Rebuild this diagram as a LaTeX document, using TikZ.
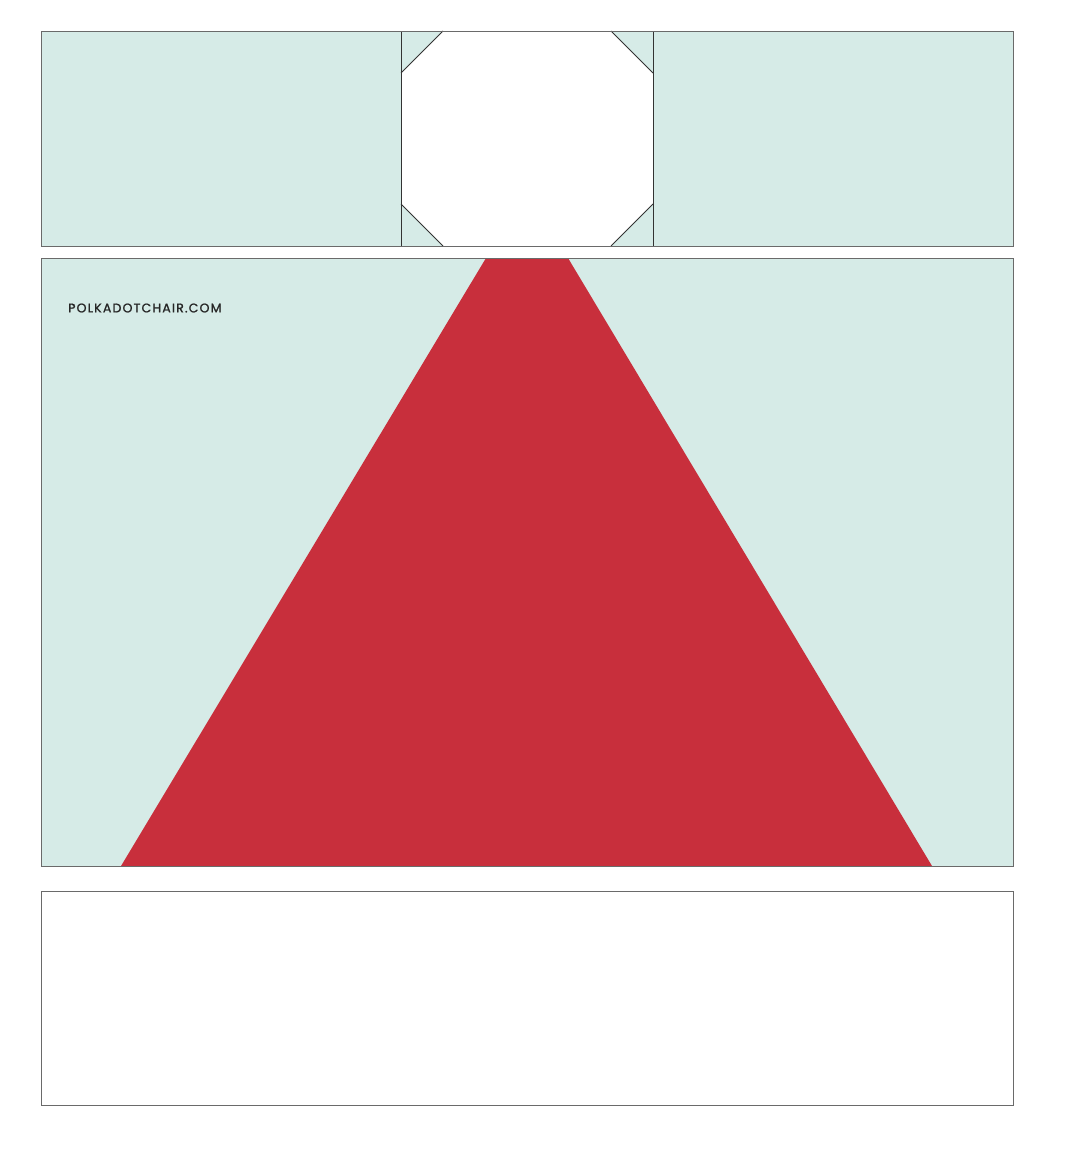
\documentclass[tikz,border=0pt]{standalone}
\usepackage{fontspec}
\newfontfamily\logofont[LetterSpace=9,FakeBold=1.2]{Poppins}
\definecolor{mint}{HTML}{D6EBE7}
\definecolor{hatred}{HTML}{C82F3C}
\definecolor{seam}{HTML}{6A6A6A}

\begin{document}
\begin{tikzpicture}[x=1pt,y=-1pt,
    block/.style={draw=seam,line width=0.9pt},
    cut/.style={draw=black!80,line width=0.8pt}]
    %\draw[help lines] (0,0) grid (1092,1151);
    \useasboundingbox (0,0) rectangle (1092,1151);
    %TOP ROW
    \fill[mint] (41,31) rectangle (1013,246);
    \fill[white] (443,31) -- (611,31) -- (653,73) -- (653,204) -- (611,246)
        -- (443,246) -- (401,204) -- (401,73) -- cycle;
    \draw[cut] (443,31) -- (401,73) (611,31) -- (653,73)
        (401,204) -- (443,246) (653,204) -- (611,246);
    \draw[cut] (401,31) -- (401,246) (653,31) -- (653,246);
    \draw[block] (41,31) coordinate (tl) rectangle (1013,246) coordinate (tr);
    %HAT
    \fill[mint] (41,258) rectangle (1013,866);
    \fill[hatred] (486,258) coordinate (hatL) -- (568,258) coordinate (hatR)
        -- (932,866) -- (121,866) -- cycle;
    \draw[block] (41,258) rectangle (1013,866);
    \node[anchor=west,inner sep=0pt,font=\logofont\fontsize{12.6}{14}\selectfont,
        text=black!85] (logo) at (68,308) {POLKADOTCHAIR.COM};
    %BOTTOM ROW
    \draw[block] (41,891) rectangle (1013,1105);
\end{tikzpicture}
\end{document}
